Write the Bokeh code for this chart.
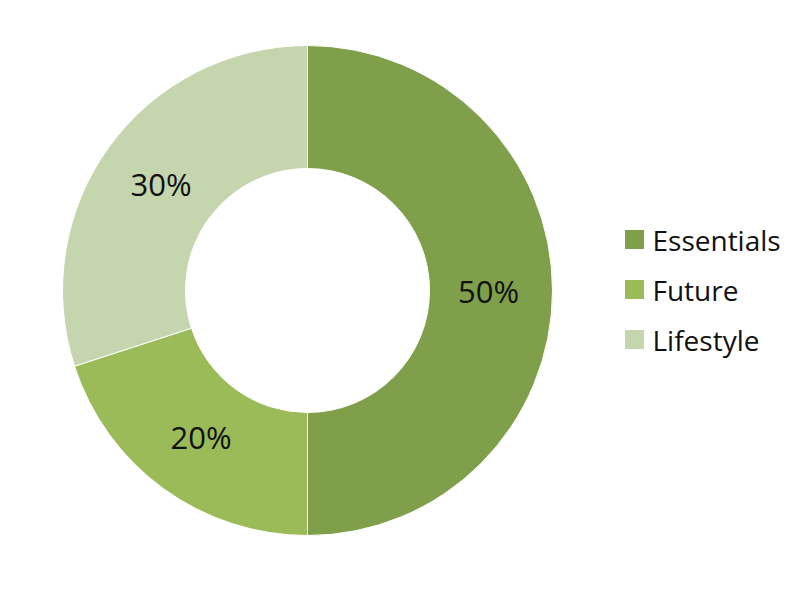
import math
from bokeh.plotting import figure
from bokeh.models import Range1d, ColumnDataSource
from bokeh.core.properties import value
from bokeh.embed import file_html
from bokeh.resources import INLINE

categories = ["Essentials", "Future", "Lifestyle"]
shares = [50, 20, 30]
labels = ["50%", "20%", "30%"]
colors = ["#7F9F4A", "#9BBB59", "#C5D6AF"]

W, H = 784, 584
p = figure(width=W, height=H, output_backend="svg", toolbar_location=None,
           x_range=Range1d(0, W), y_range=Range1d(0, H), min_border=0)
p.axis.visible = False
p.grid.visible = False
p.outline_line_color = None
p.background_fill_color = "white"
p.border_fill_color = "white"

cx, cy = 307, 294
r_in, r_out = 122, 245
total = sum(shares)
starts, ends, lx, ly = [], [], [], []
a = math.pi / 2
for s in shares:
    sweep = 2 * math.pi * s / total
    starts.append(a)
    ends.append(a - sweep)
    mid = a - sweep / 2
    rm = 181
    lx.append(cx + rm * math.cos(mid))
    ly.append(cy + rm * math.sin(mid))
    a -= sweep

src = ColumnDataSource(dict(start=starts, end=ends, color=colors, lx=lx, ly=ly, label=labels))
p.annular_wedge(x=cx, y=cy, inner_radius=r_in, outer_radius=r_out,
                start_angle="start", end_angle="end", direction="clock",
                fill_color="color", line_color="white", line_width=1, source=src)
p.text(x="lx", y="ly", text="label", source=src, text_align="center", text_baseline="middle",
       text_font=value("Open Sans"), text_font_size="31px", text_color="#111111")

# legend
leg_y = [345 - 50 * i for i in range(len(categories))]
leg = ColumnDataSource(dict(y=leg_y, cat=categories, color=colors))
p.rect(x=634, y="y", width=19, height=19, fill_color="color", line_color=None, source=leg)
p.text(x=652, y="y", text="cat", source=leg, text_align="left", text_baseline="middle",
       text_font=value("Open Sans"), text_font_size="28px", text_color="#111111")

open("out.html", "w").write(file_html(p, INLINE))
